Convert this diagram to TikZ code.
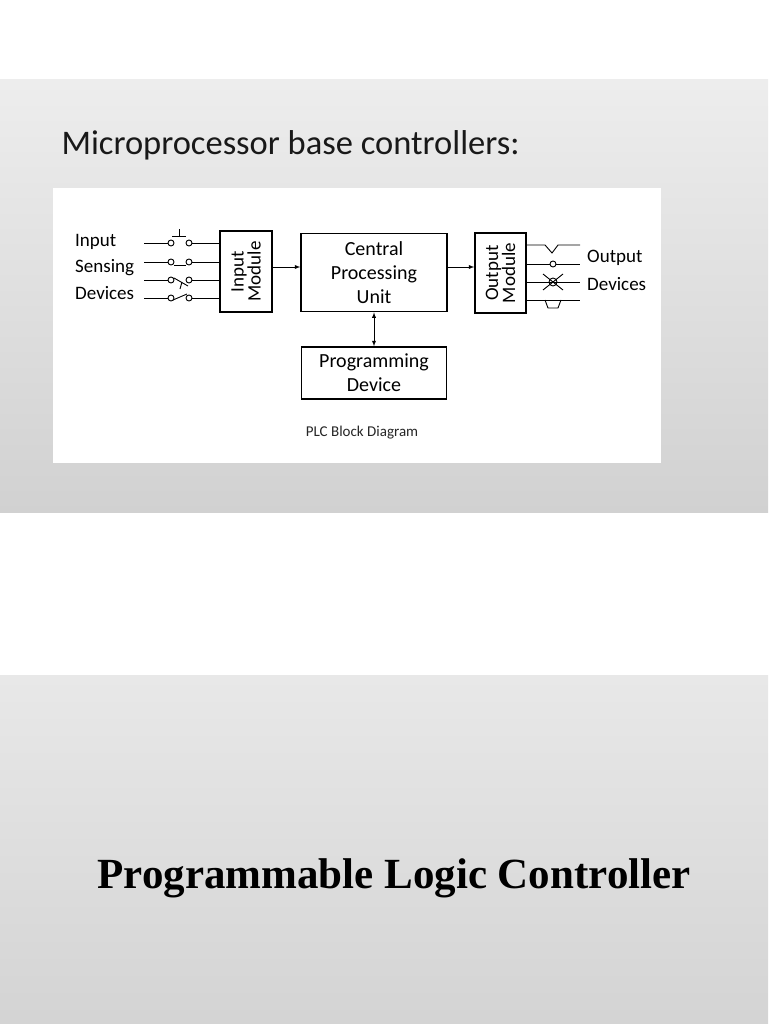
\documentclass[tikz,border=0pt]{standalone}
\usepackage{fontspec}
\setmainfont{Carlito}
\newfontfamily\titlefont{Liberation Serif}
\begin{document}
\begin{tikzpicture}[x=1pt,y=-1pt,
  blk/.style={draw,line width=1.4pt,inner sep=0pt},
  lbl/.style={font=\fontsize{19}{21}\selectfont,align=left,inner sep=0pt},
  wire/.style={line width=0.9pt},
  ar/.style={line width=0.9pt,-latex}]
\useasboundingbox (0,0) rectangle (768,1024);
\fill[white] (0,0) rectangle (768,1024);
\shade[top color=black!7,bottom color=black!18] (0,80) rectangle (768,512);
\shade[top color=black!9,bottom color=black!17] (0,675) rectangle (768,1024);
\node[anchor=west,font=\fontsize{34.5}{38}\selectfont,text=black!90] (title) at (58,145) {Microprocessor base controllers:};
\fill[white] (53,188) rectangle (661,463);
% blocks
\node[blk,minimum width=52pt,minimum height=81pt] (inm) at (246,271.5) {};
\node[rotate=90,font=\fontsize{19}{17}\selectfont,align=center] at (inm.center) {Input\\Module};
\node[blk,minimum width=146pt,minimum height=78pt,font=\fontsize{20}{24}\selectfont,align=center,anchor=north] (cpu) at (374,233) {Central\\Processing\\Unit};
\node[blk,minimum width=51pt,minimum height=80pt] (outm) at (500.5,273) {};
\node[rotate=90,font=\fontsize{19}{17}\selectfont,align=center] at (outm.center) {Output\\Module};
\node[blk,minimum width=145pt,minimum height=52pt,font=\fontsize{20}{24}\selectfont,align=center] (prog) at (374,373) {Programming\\Device};
\draw[ar] (inm.east |- 0,267) -- (cpu.west |- 0,267);
\draw[ar] (cpu.east |- 0,267) -- (outm.west |- 0,267);
\draw[line width=0.9pt,latex-latex] (cpu.south) -- (prog.north);
\node[font=\fontsize{15}{17}\selectfont,text=black!85] (cap) at (362,433) {PLC Block Diagram};
% labels
\node[lbl,anchor=west] (l1) at (75,242) {Input};
\node[lbl,anchor=west] (l2) at (75,268) {Sensing};
\node[lbl,anchor=west] (l3) at (75,293) {Devices};
\node[lbl,anchor=west] (r1) at (587,258) {Output};
\node[lbl,anchor=west] (r2) at (587,284) {Devices};
% input switches
\foreach \y in {243,262,280,298}{
  \draw[wire] (144,\y) -- (168,\y);
  \draw[wire] (171,\y) circle (3);
  \draw[wire] (189,\y) circle (3);
  \draw[wire] (192,\y) -- (220,\y);
}
\draw[wire] (172,236) -- (186,236) (179,236) -- (179,229);
\draw[wire] (174,265) -- (186,265);
\draw[wire] (174,278) -- (188,286) (182,282) -- (180,289);
\draw[wire] (173,300) -- (187,294);
% output devices
\draw[wire] (526,245) -- (545,245) -- (552,253) -- (558,245) -- (580,245);
\draw[wire] (526,264) -- (550,264) (556,264) -- (580,264);
\draw[wire] (553,264) circle (3);
\draw[wire] (526,282) -- (580,282);
\draw[wire] (553,282) circle (4);
\draw[wire] (543,274) -- (563,290) (543,290) -- (563,274);
\draw[wire] (526,300) -- (580,300);
\draw[wire] (545,300) -- (548,308) -- (558,308) -- (561,300);
\node[font=\titlefont\bfseries\fontsize{43}{48}\selectfont] (big) at (394,878) {Programmable Logic Controller};
\end{tikzpicture}
\end{document}
